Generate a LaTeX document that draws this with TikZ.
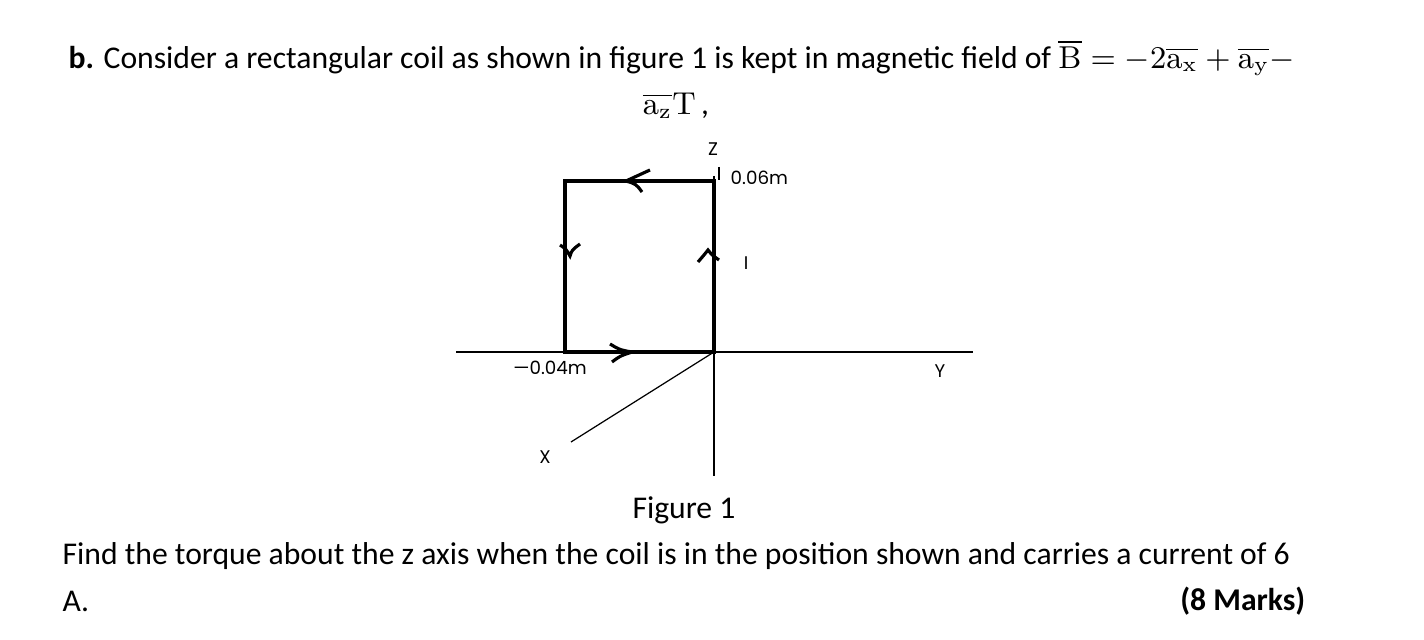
\documentclass[tikz,border=0pt]{standalone}
\usepackage{fontspec}
\setmainfont{Carlito}
\setmathrm{Latin Modern Roman}
\newfontfamily\lbl{Poppins}
\usetikzlibrary{arrows.meta}
\begin{document}
\begin{tikzpicture}[x=0.01cm,y=-0.01cm,
  txt/.style={inner sep=0pt,font=\fontsize{9pt}{11pt}\selectfont},
  sm/.style={inner sep=0pt,font=\lbl\fontsize{5.2pt}{6pt}\selectfont},
  coil/.style={line width=1pt},
  ax/.style={line width=0.35pt},
  chev/.style={line width=0.9pt}]
\useasboundingbox (0,0) rectangle (1424,640);
\node[txt,anchor=west] (l1) at (68,58) {\textbf{b.} Consider a rectangular coil as shown in figure 1 is kept in magnetic field of $\overline{\mathrm{B}}=-2\overline{\mathrm{a}_{\mathrm{x}}}+\overline{\mathrm{a}_{\mathrm{y}}}-$};
\node[txt] (l2) at (676,106) {$\overline{\mathrm{a}_{\mathrm{z}}}\mathrm{T}$\,,};
% axes
\coordinate (O) at (714,352);
\coordinate (zt) at (714,176);
\coordinate (zb) at (714,476);
\coordinate (yl) at (456,352);
\coordinate (yr) at (973,352);
\coordinate (xe) at (571,442);
\draw[ax] (zt) -- (zb);
\draw[ax] (yl) -- (yr);
\draw[ax] (O) -- (xe);
% coil
\coordinate (tl) at (565,181);
\coordinate (tr) at (714,181);
\coordinate (bl) at (565,352);
\draw[coil] (tr) -- (tl) -- (bl) -- (O) -- cycle;
% chevrons
\draw[chev] (650,170) .. controls (638,176) .. (626,181) .. controls (636,184) .. (642,192);
\draw[chev] (560,245) .. controls (566,249) .. (570,256) .. controls (572,250) .. (580,244);
\draw[chev] (698,262) .. controls (704,255) .. (708,250) .. controls (712,255) .. (719,260);
\draw[chev] (610,344) .. controls (620,350) .. (632,352) .. controls (620,356) .. (612,362);
% tick
\draw[ax] (719,167) -- (719,180);
% labels
\node[sm] (zl) at (713,149) {Z};
\node[sm,anchor=west] (m6) at (730,178) {0.06m};
\node[sm] (il) at (746,263) {I};
\node[sm] (m4) at (550,368) {—0.04m};
\node[sm] (yl2) at (940,371) {Y};
\node[sm] (xl) at (545,457) {X};
\node[txt] (fig) at (684,510) {Figure 1};
\node[txt,anchor=west] (l3) at (62,556) {Find the torque about the z axis when the coil is in the position shown and carries a current of 6};
\node[txt,anchor=west] (l4) at (62,601) {A.};
\node[txt,anchor=east] (mk) at (1306,601) {\textbf{(8 Marks)}};
\end{tikzpicture}
\end{document}
